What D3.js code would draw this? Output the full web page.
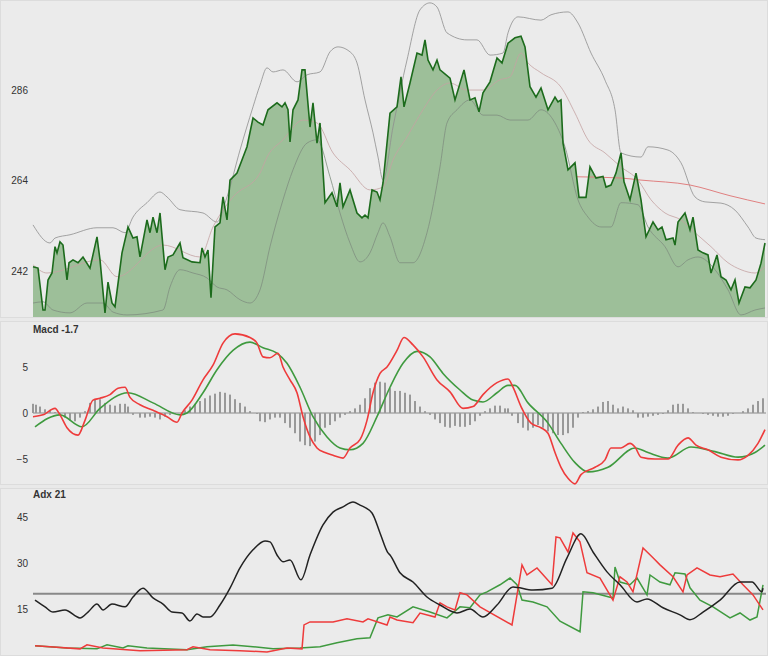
<!DOCTYPE html>
<html><head><meta charset="utf-8">
<script src="https://cdn.jsdelivr.net/npm/d3@7"></script>
<style>body{margin:0;background:#e9e9e9;font-family:"Liberation Sans",Arial,sans-serif}</style>
</head><body><svg id="c" width="768" height="656"></svg>
<script>
const priceDays=[0,5,10,12,15,19,22,24,27,30,34,36,40,45,50,57,64,67,72,75,79,82,89,95,100,104,107,114,117,120,124,127,132,135,140,147,150,159,167,169,172,175,178,182,187,190,194,197,204,214,220,225,230,235,244,249,252,255,257,260,265,269,272,277,280,284,287,292,299,304,307,310,317,324,329,332,335,339,344,347,350,357,364,368,371,377,384,389,392,395,400,404,407,417,422,425,431,437,442,446,450,457,464,469,475,482,488,492,497,503,508,515,522,525,528,530,535,542,546,553,557,563,570,573,578,583,588,591,597,603,608,613,620,625,629,633,640,642,645,652,657,660,665,670,675,678,684,688,693,698,702,706,712,717,723,728,732];
const price=[243.0,242.7,232.5,232.5,239.8,241.5,247.9,246.4,249.1,248.3,239.8,244.0,244.7,244.0,245.4,242.7,250.3,244.7,231.8,239.3,234.2,233.3,246.4,252.7,250.0,250.3,245.4,254.4,251.3,255.1,251.3,256.1,242.3,245.4,245.9,248.8,245.2,244.2,244.0,247.6,245.4,247.1,235.5,252.7,253.7,260.0,254.4,264.1,265.8,272.2,279.2,278.2,277.5,281.2,282.9,281.9,282.9,281.2,273.4,281.2,283.6,290.9,290.9,277.0,282.9,273.1,278.0,258.6,261.0,257.6,263.4,257.6,261.7,256.1,254.9,255.6,254.9,261.7,261.2,259.3,263.4,280.4,281.9,289.2,281.9,287.7,295.0,294.5,298.2,293.3,290.9,293.3,290.9,288.9,283.6,286.0,290.9,283.6,284.1,280.7,285.3,288.0,293.8,292.6,297.4,298.7,299.1,296.5,286.8,284.3,286.5,281.2,284.3,283.1,283.6,273.1,266.6,268.3,259.9,259.9,267.3,264.6,265.0,262.4,262.9,265.8,270.7,263.7,259.3,265.8,259.3,250.3,253.9,252.0,252.7,249.6,250.0,248.3,253.9,256.1,252.0,255.1,247.1,246.4,245.9,241.5,245.9,240.6,239.8,237.4,239.8,234.2,238.1,237.9,239.8,243.9,248.8];
const upperDays=[0,17,22,37,64,80,92,100,114,127,134,147,170,184,194,207,220,227,234,240,250,264,274,287,297,305,317,324,332,340,345,350,360,374,387,397,404,414,434,444,457,470,475,485,508,518,535,545,558,572,582,588,608,615,635,648,662,672,688,702,715,723,732];
const upper=[253.2,248.8,250.0,250.8,252.5,252.5,251.3,255.1,258.6,261.2,260.0,256.9,256.1,253.9,260.0,271.4,281.9,287.2,291.4,290.4,290.9,288.0,289.7,290.4,295.3,296.5,295.3,292.6,283.6,275.6,269.7,264.1,277.0,293.3,305.5,307.2,306.2,299.9,298.2,298.2,294.5,295.0,299.9,303.8,303.0,304.3,305.0,302.3,295.0,288.4,281.2,270.7,269.7,272.2,271.4,268.3,260.0,258.8,258.5,256.8,252.7,250.0,249.6];
const lowerDays=[0,10,20,37,54,70,80,94,130,137,147,160,174,184,194,207,217,227,237,250,260,274,284,297,307,317,327,337,345,350,357,367,380,394,407,414,424,437,450,464,477,495,508,522,532,545,555,568,578,588,605,615,632,645,655,665,682,695,708,722,732];
const lower=[234.2,234.5,232.5,231.8,234.2,234.2,232.0,231.3,232.5,238.1,242.3,241.5,240.3,238.1,237.4,235.0,234.2,237.4,247.9,259.3,266.6,273.1,273.9,264.9,256.1,248.8,244.2,246.4,251.3,253.7,250.3,244.0,244.0,251.3,267.3,278.0,281.2,283.6,279.9,279.9,278.7,278.7,281.2,278.0,272.2,259.3,255.1,252.7,252.7,258.6,258.1,252.7,247.9,243.0,244.7,245.4,242.3,237.4,231.3,232.5,233.0];
const midDays=[0,14,67,84,130,167,180,200,227,234,250,270,284,300,317,337,350,360,374,390,404,417,434,450,467,477,488,495,508,528,542,555,572,588,605,618,632,648,662,678,695,708,722,732];
const mid=[243.5,241.5,244.7,240.6,248.3,245.4,252.7,260.0,265.8,269.7,273.9,278.7,278.0,270.7,266.6,261.7,262.4,269.0,274.6,281.2,286.0,287.7,286.0,286.0,288.5,289.2,295.0,292.6,290.2,286.7,280.4,273.9,270.7,267.3,264.1,259.3,256.1,254.4,251.3,247.9,244.0,242.3,241.5,243.0];
const smaDays=[544,588,608,657,697,732];
const sma=[264.9,264.6,264.1,262.9,260.3,258.3];
const priceTicks=[242,264,286];

const macdDays=[0,10,22,27,34,45,52,60,67,77,85,92,97,107,120,134,144,149,159,170,180,190,202,217,224,230,237,245,250,257,264,270,277,284,292,300,310,317,327,334,340,347,354,364,371,380,390,404,417,430,440,450,464,475,480,488,498,508,515,522,528,535,542,548,562,572,578,588,597,602,608,622,635,645,655,663,675,688,705,715,725,732];
const macd=[-0.4,-0.2,0.5,-0.2,-1.6,-2.4,-0.8,1.4,1.6,2.0,2.7,2.8,1.7,0.9,0.3,-0.4,-1.0,0,1.4,3.6,5.2,7.6,8.6,8.2,7.6,6.1,6.0,6.5,5.0,3.6,2.2,-0.4,-2.6,-3.8,-4.3,-4.6,-4.9,-3.8,-2.9,-0.8,2.2,4.3,5.0,6.8,8.2,7.4,6.1,3.6,2.3,0.5,0.7,2.0,3.3,3.7,2.8,0.7,-1.1,-1.6,-2.2,-4.3,-5.9,-7.1,-7.7,-6.7,-5.9,-5.1,-3.8,-3.8,-3.3,-3.7,-4.8,-5.0,-5.0,-3.5,-2.7,-3.5,-4.0,-4.8,-5.1,-4.6,-3.3,-1.8];
const signalDays=[2,27,49,67,95,120,147,154,170,184,200,217,230,244,254,267,280,294,307,317,330,344,357,370,384,397,410,427,440,450,464,475,482,495,515,528,542,555,575,602,615,635,658,682,705,722,732];
const signal=[-1.5,-0.2,-1.5,0.5,2.2,1.1,-0.2,0,2.2,4.7,6.8,7.7,7.1,6.5,5.4,2.8,-0.4,-2.6,-3.8,-4.0,-3.3,-0.4,2.8,5.4,6.7,6.1,4.3,2.5,1.4,1.2,2.2,3.0,3.0,1.1,-1.1,-3.3,-5.4,-6.4,-5.9,-3.8,-4.3,-4.9,-3.7,-4.2,-4.8,-4.3,-3.5];
const histDays=[0,3,7,12,17,22,27,32,37,42,47,52,57,62,67,72,77,82,87,92,95,100,107,112,117,122,127,132,137,142,147,152,157,162,167,172,177,182,187,192,197,202,207,212,217,224,227,232,237,242,247,252,257,262,267,272,277,282,287,292,297,302,307,312,317,322,327,332,337,342,347,352,357,362,367,372,377,382,387,392,397,402,407,412,417,422,427,432,437,442,447,452,457,462,467,472,475,479,485,490,495,500,505,510,515,520,525,530,535,540,545,550,555,560,565,570,575,580,585,590,595,600,605,610,615,620,625,630,635,640,645,650,655,660,665,670,675,680,685,690,695,700,705,710,715,720,725,730];
const hist=[1.0,0.9,0.7,0.4,0.3,0.1,-0.2,-0.5,-0.8,-0.9,-0.5,0.2,1.1,1.5,1.5,1.1,0.9,0.8,1.0,1.0,0.7,-0.2,-0.5,-0.5,-0.4,-0.5,-0.7,-0.4,-0.2,-0.1,0,0.3,0.7,1.0,1.3,1.6,1.9,2.1,2.3,2.2,2.0,1.5,1.1,0.7,0.2,-0.1,-0.9,-1.0,-0.7,-0.5,-0.5,-1.1,-1.6,-2.2,-3.1,-3.5,-3.6,-3.1,-2.4,-1.6,-1.3,-0.9,-0.5,-0.2,0.2,0.5,0.9,1.6,2.7,3.3,3.4,3.3,2.7,2.4,2.4,2.2,2.0,1.3,0.7,0.2,-0.2,-0.7,-1.1,-1.5,-1.6,-1.4,-1.5,-1.5,-1.3,-0.9,-0.3,0.2,0.5,0.8,0.8,0.5,0.5,-0.3,-1.1,-1.6,-1.9,-1.6,-1.3,-1.6,-2.0,-2.2,-2.4,-2.4,-2.2,-1.6,-0.5,0.1,0.2,0.4,0.7,1.2,1.3,0.9,0.5,0.7,0.5,0.3,-0.5,-0.5,-0.4,-0.3,-0.2,-0.1,0.3,0.9,1.0,1.0,0.5,0.1,0,-0.1,-0.2,-0.3,-0.4,-0.4,-0.3,-0.1,0,0.2,0.5,0.9,1.3,1.6];
const macdTicks=[-5,0,5];

const adxDays=[2,12,20,32,47,55,64,70,79,92,100,110,120,130,139,149,157,164,170,177,187,197,207,220,232,237,244,250,257,268,277,290,300,310,320,327,339,347,355,357,367,380,394,407,424,437,450,464,480,500,519,534,548,560,574,587,604,614,630,647,657,670,687,707,719,729,730];
const adx=[17.9,15.7,14.0,14.7,12.1,14.0,16.6,14.7,16.6,15.7,18.9,21.8,18.6,16.6,14.0,13.7,11.1,13.4,12.4,12.4,16.3,21.8,28.4,34.3,37.2,36.9,32.6,30.4,31.0,24.5,32.6,42.4,46.6,48.3,49.9,48.9,46.3,39.8,33.3,32.6,26.8,23.8,18.9,16.3,13.7,15.0,12.4,16.3,22.2,21.2,21.8,31.7,39.5,33.6,27.1,22.9,17.3,18.3,15.4,13.1,11.5,14.0,17.9,23.8,23.8,20.6,21.8];
const pdiDays=[2,17,47,54,70,107,154,160,177,207,234,254,269,271,277,300,314,330,335,354,357,364,380,387,402,407,414,422,427,434,447,479,489,494,504,519,523,527,535,540,547,554,567,580,587,594,600,610,620,627,640,650,654,664,677,687,700,710,720,730];
const pdi=[3.0,2.7,2.0,3.3,2.3,1.4,1.7,2.7,1.7,1.4,1.0,2.3,2.0,9.8,10.8,10.8,11.8,10.8,11.8,9.8,12.4,11.4,10.5,13.7,12.4,17.0,15.7,14.7,20.3,19.6,15.7,9.8,29.4,26.1,28.4,22.9,38.5,38.2,33.6,39.8,36.9,26.8,25.1,17.9,25.5,23.8,20.6,34.9,31.7,29.4,25.5,20.6,26.1,28.4,26.1,25.5,26.4,22.9,19.6,14.7];
const mdiDays=[2,34,64,74,90,95,114,154,174,200,220,240,267,287,304,324,337,345,355,364,380,397,414,427,437,447,454,467,477,484,489,500,514,527,547,550,560,580,582,587,597,604,614,617,627,637,642,652,657,667,680,697,707,717,724,730];
const mdi=[3.0,2.3,2.0,3.3,2.3,3.0,2.3,1.7,2.7,3.3,2.7,2.0,2.3,2.7,4.0,5.3,5.6,12.1,13.1,12.4,15.7,14.0,12.1,15.7,15.4,19.6,20.6,22.9,25.1,22.9,17.9,17.3,15.7,11.0,7.6,20.6,20.3,18.6,28.7,23.8,22.9,25.1,19.6,26.1,23.8,22.9,26.8,26.4,21.9,17.9,15.7,12.1,13.7,11.4,12.4,22.9];
const adxTicks=[15,30,45];
const adxLevel=20;

const svg=d3.select("#c");
const L=33,R=766;
const x=d3.scaleLinear().domain([0,732]).range([L,R-1]);
const panels=[{y0:0,y1:318},{y0:321,y1:485},{y0:488,y1:656}];
panels.forEach(p=>{
  svg.append("rect").attr("x",0.5).attr("y",p.y0+0.5).attr("width",767).attr("height",p.y1-p.y0-1)
    .attr("fill","#ebebeb").attr("stroke","#dcdcdc");
});
function axis(y,ticks){
  svg.append("g").attr("transform",`translate(${L-5},0)`)
   .call(d3.axisLeft(y).tickValues(ticks).tickSize(0).tickPadding(0))
   .call(g=>g.select(".domain").remove())
   .selectAll("text").attr("fill","#333").attr("font-size",10).attr("font-family","Liberation Sans, Arial");
}
const yP=d3.scaleLinear().domain([230.8,307.9]).range([317,0]);
const pts=(days,vals)=>days.map((d,i)=>[d,vals[i]]);
const line=(ys)=>d3.line().x(d=>x(d[0])).y(d=>ys(d[1]));
const g1=svg.append("g");
g1.append("path").datum(pts(priceDays,price))
  .attr("d",d3.area().x(d=>x(d[0])).y0(317).y1(d=>yP(d[1])))
  .attr("fill","#9dbf99");
[[upperDays,upper,"#8f8f8f"],[lowerDays,lower,"#7f8f7f"],[midDays,mid,"#c4a2a2"]].forEach(([d,v,c])=>{
  g1.append("path").datum(pts(d,v)).attr("d",line(yP).curve(d3.curveMonotoneX)).attr("fill","none").attr("stroke",c).attr("stroke-width",1).attr("opacity",0.8);
});
g1.append("path").datum(pts(smaDays,sma)).attr("d",line(yP).curve(d3.curveMonotoneX)).attr("fill","none").attr("stroke","#e08080").attr("stroke-width",1);
g1.append("path").datum(pts(priceDays,price)).attr("d",line(yP)).attr("fill","none").attr("stroke","#1c6b1c").attr("stroke-width",1.6);
axis(yP,priceTicks);

const yM=d3.scaleLinear().domain([-5,5]).range([459,367]);
const g2=svg.append("g");
g2.append("line").attr("x1",L).attr("x2",R).attr("y1",yM(0)).attr("y2",yM(0)).attr("stroke","#888");
g2.selectAll("rect.h").data(pts(histDays,hist)).join("rect")
  .attr("x",d=>x(d[0])-1).attr("width",2)
  .attr("y",d=>Math.min(yM(0),yM(d[1]))).attr("height",d=>Math.abs(yM(d[1])-yM(0)))
  .attr("fill","#999");
g2.append("path").datum(pts(signalDays,signal)).attr("d",line(yM).curve(d3.curveMonotoneX)).attr("fill","none").attr("stroke","#3f9a3f").attr("stroke-width",1.6);
g2.append("path").datum(pts(macdDays,macd)).attr("d",line(yM).curve(d3.curveMonotoneX)).attr("fill","none").attr("stroke","#ee3b3b").attr("stroke-width",1.6);
axis(yM,macdTicks);
svg.append("text").attr("x",L).attr("y",333).text("Macd -1.7").attr("font-size",10).attr("font-weight","bold").attr("fill","#333");

const yA=d3.scaleLinear().domain([15,45]).range([609,517]);
const g3=svg.append("g");
g3.append("line").attr("x1",L).attr("x2",R).attr("y1",yA(adxLevel)).attr("y2",yA(adxLevel)).attr("stroke","#888").attr("stroke-width",2);
g3.append("path").datum(pts(mdiDays,mdi)).attr("d",line(yA)).attr("fill","none").attr("stroke","#3f9a3f").attr("stroke-width",1.5);
g3.append("path").datum(pts(pdiDays,pdi)).attr("d",line(yA)).attr("fill","none").attr("stroke","#ee3b3b").attr("stroke-width",1.5);
g3.append("path").datum(pts(adxDays,adx)).attr("d",line(yA).curve(d3.curveMonotoneX)).attr("fill","none").attr("stroke","#222").attr("stroke-width",1.5);
axis(yA,adxTicks);
svg.append("text").attr("x",L).attr("y",498).text("Adx 21").attr("font-size",10).attr("font-weight","bold").attr("fill","#333");
</script></body></html>
